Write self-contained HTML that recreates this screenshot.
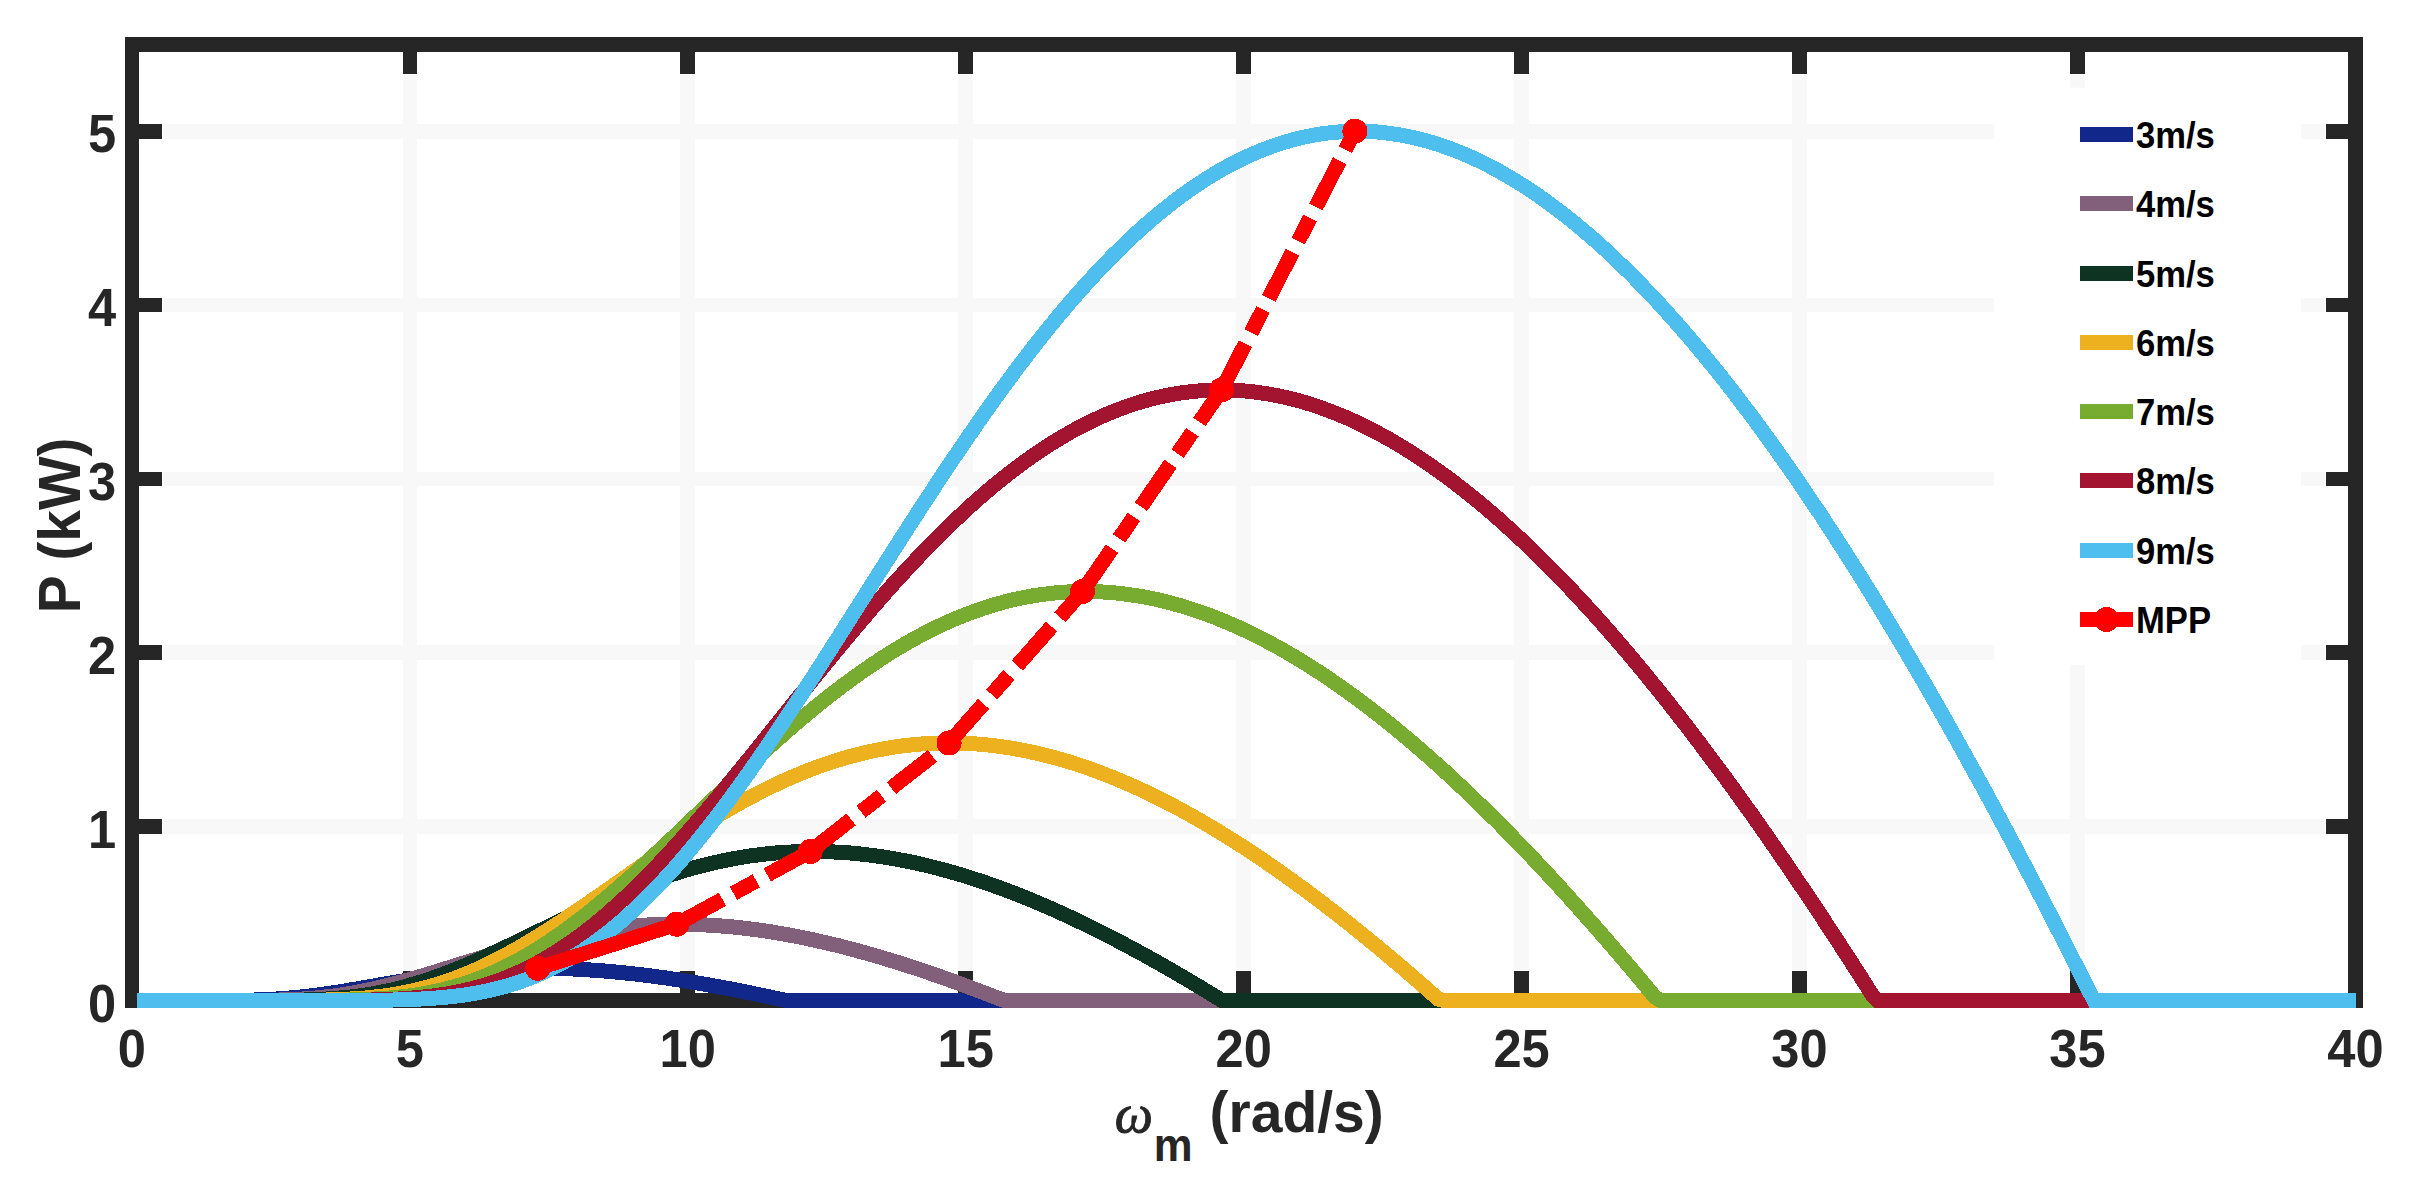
<!DOCTYPE html>
<html lang="en"><head><meta charset="utf-8"><title>P vs omega_m</title>
<style>html,body{margin:0;padding:0;background:#fff}body{width:2415px;height:1196px;overflow:hidden}svg{display:block}text{font-family:"Liberation Sans",Arial,Helvetica,sans-serif;font-weight:bold}</style>
</head><body>
<svg width="2415" height="1196" viewBox="0 0 2415 1196">
<rect width="2415" height="1196" fill="#ffffff"/>
<g fill="#f8f8f8">
<rect x="403.00" y="75.00" width="14.00" height="895.00"/>
<rect x="680.00" y="75.00" width="15.00" height="895.00"/>
<rect x="958.00" y="75.00" width="15.00" height="895.00"/>
<rect x="1236.00" y="75.00" width="15.00" height="895.00"/>
<rect x="1514.00" y="75.00" width="15.00" height="895.00"/>
<rect x="1792.00" y="75.00" width="15.00" height="895.00"/>
<rect x="2070.00" y="75.00" width="15.00" height="895.00"/>
<rect x="163.00" y="819.00" width="2162.00" height="15.00"/>
<rect x="163.00" y="645.00" width="2162.00" height="15.00"/>
<rect x="163.00" y="472.00" width="2162.00" height="14.00"/>
<rect x="163.00" y="298.00" width="2162.00" height="14.00"/>
<rect x="163.00" y="124.00" width="2162.00" height="15.00"/>
</g>
<g fill="#262626">
<rect x="125.00" y="37.00" width="2238.00" height="15.00"/>
<rect x="125.00" y="993.00" width="2238.00" height="15.00"/>
<rect x="125.00" y="37.00" width="14.00" height="971.00"/>
<rect x="2348.00" y="37.00" width="15.00" height="971.00"/>
<rect x="403.00" y="44.00" width="14.00" height="30.00"/>
<rect x="403.00" y="971.00" width="14.00" height="29.00"/>
<rect x="680.00" y="44.00" width="15.00" height="30.00"/>
<rect x="680.00" y="971.00" width="15.00" height="29.00"/>
<rect x="958.00" y="44.00" width="15.00" height="30.00"/>
<rect x="958.00" y="971.00" width="15.00" height="29.00"/>
<rect x="1236.00" y="44.00" width="15.00" height="30.00"/>
<rect x="1236.00" y="971.00" width="15.00" height="29.00"/>
<rect x="1514.00" y="44.00" width="15.00" height="30.00"/>
<rect x="1514.00" y="971.00" width="15.00" height="29.00"/>
<rect x="1792.00" y="44.00" width="15.00" height="30.00"/>
<rect x="1792.00" y="971.00" width="15.00" height="29.00"/>
<rect x="2070.00" y="44.00" width="15.00" height="30.00"/>
<rect x="2070.00" y="971.00" width="15.00" height="29.00"/>
<rect x="132.00" y="819.00" width="30.00" height="15.00"/>
<rect x="2326.00" y="819.00" width="30.00" height="15.00"/>
<rect x="132.00" y="645.00" width="30.00" height="15.00"/>
<rect x="2326.00" y="645.00" width="30.00" height="15.00"/>
<rect x="132.00" y="472.00" width="30.00" height="14.00"/>
<rect x="2326.00" y="472.00" width="30.00" height="14.00"/>
<rect x="132.00" y="298.00" width="30.00" height="14.00"/>
<rect x="2326.00" y="298.00" width="30.00" height="14.00"/>
<rect x="132.00" y="124.00" width="30.00" height="15.00"/>
<rect x="2326.00" y="124.00" width="30.00" height="15.00"/>
</g>
<g fill="none" stroke-width="15" stroke-linejoin="miter" stroke-linecap="butt" shape-rendering="crispEdges">
<polyline stroke="#12278a" points="136.9,1000.5 137.6,1000.5 143.1,1000.5 148.7,1000.5 154.2,1000.5 159.8,1000.5 165.4,1000.5 170.9,1000.5 176.5,1000.5 182.0,1000.5 187.6,1000.5 193.1,1000.5 198.7,1000.5 204.3,1000.5 209.8,1000.5 215.4,1000.5 220.9,1000.5 226.5,1000.5 232.1,1000.4 237.6,1000.4 243.2,1000.3 248.7,1000.2 254.3,1000.0 259.9,999.9 265.4,999.6 271.0,999.4 276.5,999.0 282.1,998.7 287.6,998.2 293.2,997.7 298.8,997.2 304.3,996.6 309.9,996.0 315.4,995.3 321.0,994.5 326.6,993.7 332.1,992.9 337.7,992.1 343.2,991.2 348.8,990.2 354.4,989.3 359.9,988.4 365.5,987.4 371.0,986.4 376.6,985.4 382.1,984.5 387.7,983.5 393.3,982.5 398.8,981.6 404.4,980.7 409.9,979.8 415.5,978.9 421.1,978.0 426.6,977.2 432.2,976.3 437.7,975.6 443.3,974.8 448.8,974.1 454.4,973.4 460.0,972.8 465.5,972.2 471.1,971.7 476.6,971.1 482.2,970.7 487.8,970.2 493.3,969.8 498.9,969.5 504.4,969.2 510.0,968.9 515.6,968.7 521.1,968.6 526.7,968.4 532.2,968.4 537.8,968.3 543.3,968.3 548.9,968.4 554.5,968.4 560.0,968.6 565.6,968.7 571.1,968.9 576.7,969.2 582.3,969.5 587.8,969.8 593.4,970.2 598.9,970.6 604.5,971.0 610.1,971.5 615.6,972.0 621.2,972.5 626.7,973.1 632.3,973.7 637.8,974.3 643.4,975.0 649.0,975.7 654.5,976.4 660.1,977.2 665.6,977.9 671.2,978.8 676.8,979.6 682.3,980.5 687.9,981.4 693.4,982.3 699.0,983.2 704.6,984.2 710.1,985.2 715.7,986.2 721.2,987.2 726.8,988.2 732.3,989.3 737.9,990.4 743.5,991.5 749.0,992.6 754.6,993.8 760.1,994.9 765.7,996.1 771.3,997.3 776.8,998.5 782.4,999.7 787.9,1000.5 793.5,1000.5 799.0,1000.5 804.6,1000.5 810.2,1000.5 815.7,1000.5 821.3,1000.5 826.8,1000.5 832.4,1000.5 838.0,1000.5 843.5,1000.5 849.1,1000.5 854.6,1000.5 860.2,1000.5 865.8,1000.5 871.3,1000.5 876.9,1000.5 882.4,1000.5 888.0,1000.5 893.5,1000.5 899.1,1000.5 904.7,1000.5 910.2,1000.5 915.8,1000.5 921.3,1000.5 926.9,1000.5 932.5,1000.5 938.0,1000.5 943.6,1000.5 949.1,1000.5 954.7,1000.5 960.3,1000.5 965.8,1000.5 971.4,1000.5 976.9,1000.5 982.5,1000.5 988.0,1000.5 993.6,1000.5 999.2,1000.5 1004.7,1000.5 1010.3,1000.5 1015.8,1000.5 1021.4,1000.5 1027.0,1000.5 1032.5,1000.5 1038.1,1000.5 1043.6,1000.5 1049.2,1000.5 1054.8,1000.5 1060.3,1000.5 1065.9,1000.5 1071.4,1000.5 1077.0,1000.5 1082.5,1000.5 1088.1,1000.5 1093.7,1000.5 1099.2,1000.5 1104.8,1000.5 1110.3,1000.5 1115.9,1000.5 1121.5,1000.5 1127.0,1000.5 1132.6,1000.5 1138.1,1000.5 1143.7,1000.5 1149.3,1000.5 1154.8,1000.5 1160.4,1000.5 1165.9,1000.5 1171.5,1000.5 1177.0,1000.5 1182.6,1000.5 1188.2,1000.5 1193.7,1000.5 1199.3,1000.5 1204.8,1000.5 1210.4,1000.5 1216.0,1000.5 1221.5,1000.5 1227.1,1000.5 1232.6,1000.5 1238.2,1000.5 1243.8,1000.5 1249.3,1000.5 1254.9,1000.5 1260.4,1000.5 1266.0,1000.5 1271.5,1000.5 1277.1,1000.5 1282.7,1000.5 1288.2,1000.5 1293.8,1000.5 1299.3,1000.5 1304.9,1000.5 1310.5,1000.5 1316.0,1000.5 1321.6,1000.5 1327.1,1000.5 1332.7,1000.5 1338.2,1000.5 1343.8,1000.5 1349.4,1000.5 1354.9,1000.5 1360.5,1000.5 1366.0,1000.5 1371.6,1000.5 1377.2,1000.5 1382.7,1000.5 1388.3,1000.5 1393.8,1000.5 1399.4,1000.5 1405.0,1000.5 1410.5,1000.5 1416.1,1000.5 1421.6,1000.5 1427.2,1000.5 1432.7,1000.5 1438.3,1000.5 1443.9,1000.5 1449.4,1000.5 1455.0,1000.5 1460.5,1000.5 1466.1,1000.5 1471.7,1000.5 1477.2,1000.5 1482.8,1000.5 1488.3,1000.5 1493.9,1000.5 1499.5,1000.5 1505.0,1000.5 1510.6,1000.5 1516.1,1000.5 1521.7,1000.5 1527.2,1000.5 1532.8,1000.5 1538.4,1000.5 1543.9,1000.5 1549.5,1000.5 1555.0,1000.5 1560.6,1000.5 1566.2,1000.5 1571.7,1000.5 1577.3,1000.5 1582.8,1000.5 1588.4,1000.5 1594.0,1000.5 1599.5,1000.5 1605.1,1000.5 1610.6,1000.5 1616.2,1000.5 1621.7,1000.5 1627.3,1000.5 1632.9,1000.5 1638.4,1000.5 1644.0,1000.5 1649.5,1000.5 1655.1,1000.5 1660.7,1000.5 1666.2,1000.5 1671.8,1000.5 1677.3,1000.5 1682.9,1000.5 1688.5,1000.5 1694.0,1000.5 1699.6,1000.5 1705.1,1000.5 1710.7,1000.5 1716.2,1000.5 1721.8,1000.5 1727.4,1000.5 1732.9,1000.5 1738.5,1000.5 1744.0,1000.5 1749.6,1000.5 1755.2,1000.5 1760.7,1000.5 1766.3,1000.5 1771.8,1000.5 1777.4,1000.5 1782.9,1000.5 1788.5,1000.5 1794.1,1000.5 1799.6,1000.5 1805.2,1000.5 1810.7,1000.5 1816.3,1000.5 1821.9,1000.5 1827.4,1000.5 1833.0,1000.5 1838.5,1000.5 1844.1,1000.5 1849.7,1000.5 1855.2,1000.5 1860.8,1000.5 1866.3,1000.5 1871.9,1000.5 1877.4,1000.5 1883.0,1000.5 1888.6,1000.5 1894.1,1000.5 1899.7,1000.5 1905.2,1000.5 1910.8,1000.5 1916.4,1000.5 1921.9,1000.5 1927.5,1000.5 1933.0,1000.5 1938.6,1000.5 1944.2,1000.5 1949.7,1000.5 1955.3,1000.5 1960.8,1000.5 1966.4,1000.5 1971.9,1000.5 1977.5,1000.5 1983.1,1000.5 1988.6,1000.5 1994.2,1000.5 1999.7,1000.5 2005.3,1000.5 2010.9,1000.5 2016.4,1000.5 2022.0,1000.5 2027.5,1000.5 2033.1,1000.5 2038.7,1000.5 2044.2,1000.5 2049.8,1000.5 2055.3,1000.5 2060.9,1000.5 2066.4,1000.5 2072.0,1000.5 2077.6,1000.5 2083.1,1000.5 2088.7,1000.5 2094.2,1000.5 2099.8,1000.5 2105.4,1000.5 2110.9,1000.5 2116.5,1000.5 2122.0,1000.5 2127.6,1000.5 2133.1,1000.5 2138.7,1000.5 2144.3,1000.5 2149.8,1000.5 2155.4,1000.5 2160.9,1000.5 2166.5,1000.5 2172.1,1000.5 2177.6,1000.5 2183.2,1000.5 2188.7,1000.5 2194.3,1000.5 2199.9,1000.5 2205.4,1000.5 2211.0,1000.5 2216.5,1000.5 2222.1,1000.5 2227.6,1000.5 2233.2,1000.5 2238.8,1000.5 2244.3,1000.5 2249.9,1000.5 2255.4,1000.5 2261.0,1000.5 2266.6,1000.5 2272.1,1000.5 2277.7,1000.5 2283.2,1000.5 2288.8,1000.5 2294.4,1000.5 2299.9,1000.5 2305.5,1000.5 2311.0,1000.5 2316.6,1000.5 2322.1,1000.5 2327.7,1000.5 2333.3,1000.5 2338.8,1000.5 2344.4,1000.5 2349.9,1000.5 2355.5,1000.5"/>
<polyline stroke="#82607b" points="136.9,1000.5 137.6,1000.5 143.1,1000.5 148.7,1000.5 154.2,1000.5 159.8,1000.5 165.4,1000.5 170.9,1000.5 176.5,1000.5 182.0,1000.5 187.6,1000.5 193.1,1000.5 198.7,1000.5 204.3,1000.5 209.8,1000.5 215.4,1000.5 220.9,1000.5 226.5,1000.5 232.1,1000.5 237.6,1000.5 243.2,1000.5 248.7,1000.5 254.3,1000.4 259.9,1000.4 265.4,1000.3 271.0,1000.2 276.5,1000.1 282.1,999.9 287.6,999.7 293.2,999.5 298.8,999.2 304.3,998.9 309.9,998.5 315.4,998.0 321.0,997.4 326.6,996.8 332.1,996.2 337.7,995.4 343.2,994.6 348.8,993.7 354.4,992.7 359.9,991.6 365.5,990.5 371.0,989.3 376.6,988.1 382.1,986.8 387.7,985.4 393.3,984.0 398.8,982.5 404.4,981.0 409.9,979.4 415.5,977.8 421.1,976.2 426.6,974.5 432.2,972.9 437.7,971.2 443.3,969.4 448.8,967.7 454.4,966.0 460.0,964.2 465.5,962.5 471.1,960.8 476.6,959.1 482.2,957.4 487.8,955.7 493.3,954.0 498.9,952.4 504.4,950.8 510.0,949.2 515.6,947.7 521.1,946.2 526.7,944.7 532.2,943.2 537.8,941.9 543.3,940.5 548.9,939.2 554.5,938.0 560.0,936.7 565.6,935.6 571.1,934.5 576.7,933.4 582.3,932.4 587.8,931.5 593.4,930.6 598.9,929.8 604.5,929.0 610.1,928.3 615.6,927.6 621.2,927.0 626.7,926.5 632.3,926.0 637.8,925.6 643.4,925.2 649.0,924.9 654.5,924.6 660.1,924.4 665.6,924.3 671.2,924.2 676.8,924.2 682.3,924.2 687.9,924.3 693.4,924.4 699.0,924.6 704.6,924.9 710.1,925.2 715.7,925.6 721.2,926.0 726.8,926.4 732.3,926.9 737.9,927.5 743.5,928.1 749.0,928.8 754.6,929.5 760.1,930.3 765.7,931.1 771.3,931.9 776.8,932.9 782.4,933.8 787.9,934.8 793.5,935.8 799.0,936.9 804.6,938.0 810.2,939.2 815.7,940.4 821.3,941.7 826.8,942.9 832.4,944.3 838.0,945.6 843.5,947.0 849.1,948.5 854.6,949.9 860.2,951.5 865.8,953.0 871.3,954.6 876.9,956.2 882.4,957.8 888.0,959.5 893.5,961.2 899.1,962.9 904.7,964.7 910.2,966.5 915.8,968.3 921.3,970.2 926.9,972.0 932.5,974.0 938.0,975.9 943.6,977.8 949.1,979.8 954.7,981.8 960.3,983.8 965.8,985.9 971.4,988.0 976.9,990.1 982.5,992.2 988.0,994.3 993.6,996.5 999.2,998.6 1004.7,1000.5 1010.3,1000.5 1015.8,1000.5 1021.4,1000.5 1027.0,1000.5 1032.5,1000.5 1038.1,1000.5 1043.6,1000.5 1049.2,1000.5 1054.8,1000.5 1060.3,1000.5 1065.9,1000.5 1071.4,1000.5 1077.0,1000.5 1082.5,1000.5 1088.1,1000.5 1093.7,1000.5 1099.2,1000.5 1104.8,1000.5 1110.3,1000.5 1115.9,1000.5 1121.5,1000.5 1127.0,1000.5 1132.6,1000.5 1138.1,1000.5 1143.7,1000.5 1149.3,1000.5 1154.8,1000.5 1160.4,1000.5 1165.9,1000.5 1171.5,1000.5 1177.0,1000.5 1182.6,1000.5 1188.2,1000.5 1193.7,1000.5 1199.3,1000.5 1204.8,1000.5 1210.4,1000.5 1216.0,1000.5 1221.5,1000.5 1227.1,1000.5 1232.6,1000.5 1238.2,1000.5 1243.8,1000.5 1249.3,1000.5 1254.9,1000.5 1260.4,1000.5 1266.0,1000.5 1271.5,1000.5 1277.1,1000.5 1282.7,1000.5 1288.2,1000.5 1293.8,1000.5 1299.3,1000.5 1304.9,1000.5 1310.5,1000.5 1316.0,1000.5 1321.6,1000.5 1327.1,1000.5 1332.7,1000.5 1338.2,1000.5 1343.8,1000.5 1349.4,1000.5 1354.9,1000.5 1360.5,1000.5 1366.0,1000.5 1371.6,1000.5 1377.2,1000.5 1382.7,1000.5 1388.3,1000.5 1393.8,1000.5 1399.4,1000.5 1405.0,1000.5 1410.5,1000.5 1416.1,1000.5 1421.6,1000.5 1427.2,1000.5 1432.7,1000.5 1438.3,1000.5 1443.9,1000.5 1449.4,1000.5 1455.0,1000.5 1460.5,1000.5 1466.1,1000.5 1471.7,1000.5 1477.2,1000.5 1482.8,1000.5 1488.3,1000.5 1493.9,1000.5 1499.5,1000.5 1505.0,1000.5 1510.6,1000.5 1516.1,1000.5 1521.7,1000.5 1527.2,1000.5 1532.8,1000.5 1538.4,1000.5 1543.9,1000.5 1549.5,1000.5 1555.0,1000.5 1560.6,1000.5 1566.2,1000.5 1571.7,1000.5 1577.3,1000.5 1582.8,1000.5 1588.4,1000.5 1594.0,1000.5 1599.5,1000.5 1605.1,1000.5 1610.6,1000.5 1616.2,1000.5 1621.7,1000.5 1627.3,1000.5 1632.9,1000.5 1638.4,1000.5 1644.0,1000.5 1649.5,1000.5 1655.1,1000.5 1660.7,1000.5 1666.2,1000.5 1671.8,1000.5 1677.3,1000.5 1682.9,1000.5 1688.5,1000.5 1694.0,1000.5 1699.6,1000.5 1705.1,1000.5 1710.7,1000.5 1716.2,1000.5 1721.8,1000.5 1727.4,1000.5 1732.9,1000.5 1738.5,1000.5 1744.0,1000.5 1749.6,1000.5 1755.2,1000.5 1760.7,1000.5 1766.3,1000.5 1771.8,1000.5 1777.4,1000.5 1782.9,1000.5 1788.5,1000.5 1794.1,1000.5 1799.6,1000.5 1805.2,1000.5 1810.7,1000.5 1816.3,1000.5 1821.9,1000.5 1827.4,1000.5 1833.0,1000.5 1838.5,1000.5 1844.1,1000.5 1849.7,1000.5 1855.2,1000.5 1860.8,1000.5 1866.3,1000.5 1871.9,1000.5 1877.4,1000.5 1883.0,1000.5 1888.6,1000.5 1894.1,1000.5 1899.7,1000.5 1905.2,1000.5 1910.8,1000.5 1916.4,1000.5 1921.9,1000.5 1927.5,1000.5 1933.0,1000.5 1938.6,1000.5 1944.2,1000.5 1949.7,1000.5 1955.3,1000.5 1960.8,1000.5 1966.4,1000.5 1971.9,1000.5 1977.5,1000.5 1983.1,1000.5 1988.6,1000.5 1994.2,1000.5 1999.7,1000.5 2005.3,1000.5 2010.9,1000.5 2016.4,1000.5 2022.0,1000.5 2027.5,1000.5 2033.1,1000.5 2038.7,1000.5 2044.2,1000.5 2049.8,1000.5 2055.3,1000.5 2060.9,1000.5 2066.4,1000.5 2072.0,1000.5 2077.6,1000.5 2083.1,1000.5 2088.7,1000.5 2094.2,1000.5 2099.8,1000.5 2105.4,1000.5 2110.9,1000.5 2116.5,1000.5 2122.0,1000.5 2127.6,1000.5 2133.1,1000.5 2138.7,1000.5 2144.3,1000.5 2149.8,1000.5 2155.4,1000.5 2160.9,1000.5 2166.5,1000.5 2172.1,1000.5 2177.6,1000.5 2183.2,1000.5 2188.7,1000.5 2194.3,1000.5 2199.9,1000.5 2205.4,1000.5 2211.0,1000.5 2216.5,1000.5 2222.1,1000.5 2227.6,1000.5 2233.2,1000.5 2238.8,1000.5 2244.3,1000.5 2249.9,1000.5 2255.4,1000.5 2261.0,1000.5 2266.6,1000.5 2272.1,1000.5 2277.7,1000.5 2283.2,1000.5 2288.8,1000.5 2294.4,1000.5 2299.9,1000.5 2305.5,1000.5 2311.0,1000.5 2316.6,1000.5 2322.1,1000.5 2327.7,1000.5 2333.3,1000.5 2338.8,1000.5 2344.4,1000.5 2349.9,1000.5 2355.5,1000.5"/>
<polyline stroke="#0f3322" points="136.9,1000.5 137.6,1000.5 143.1,1000.5 148.7,1000.5 154.2,1000.5 159.8,1000.5 165.4,1000.5 170.9,1000.5 176.5,1000.5 182.0,1000.5 187.6,1000.5 193.1,1000.5 198.7,1000.5 204.3,1000.5 209.8,1000.5 215.4,1000.5 220.9,1000.5 226.5,1000.5 232.1,1000.5 237.6,1000.5 243.2,1000.5 248.7,1000.5 254.3,1000.5 259.9,1000.5 265.4,1000.5 271.0,1000.4 276.5,1000.4 282.1,1000.4 287.6,1000.3 293.2,1000.2 298.8,1000.1 304.3,1000.0 309.9,999.8 315.4,999.6 321.0,999.3 326.6,999.0 332.1,998.7 337.7,998.2 343.2,997.7 348.8,997.2 354.4,996.5 359.9,995.8 365.5,995.0 371.0,994.1 376.6,993.1 382.1,992.0 387.7,990.8 393.3,989.6 398.8,988.2 404.4,986.8 409.9,985.2 415.5,983.6 421.1,981.9 426.6,980.1 432.2,978.2 437.7,976.3 443.3,974.2 448.8,972.1 454.4,969.9 460.0,967.7 465.5,965.4 471.1,963.0 476.6,960.6 482.2,958.1 487.8,955.6 493.3,953.0 498.9,950.4 504.4,947.8 510.0,945.2 515.6,942.5 521.1,939.8 526.7,937.1 532.2,934.4 537.8,931.7 543.3,929.0 548.9,926.3 554.5,923.6 560.0,920.9 565.6,918.3 571.1,915.6 576.7,913.0 582.3,910.4 587.8,907.8 593.4,905.3 598.9,902.8 604.5,900.3 610.1,897.9 615.6,895.5 621.2,893.2 626.7,890.9 632.3,888.7 637.8,886.5 643.4,884.4 649.0,882.3 654.5,880.3 660.1,878.3 665.6,876.4 671.2,874.6 676.8,872.9 682.3,871.2 687.9,869.5 693.4,868.0 699.0,866.5 704.6,865.0 710.1,863.7 715.7,862.4 721.2,861.2 726.8,860.0 732.3,858.9 737.9,857.9 743.5,857.0 749.0,856.1 754.6,855.4 760.1,854.6 765.7,854.0 771.3,853.4 776.8,852.9 782.4,852.5 787.9,852.2 793.5,851.9 799.0,851.7 804.6,851.5 810.2,851.5 815.7,851.5 821.3,851.5 826.8,851.7 832.4,851.9 838.0,852.2 843.5,852.5 849.1,852.9 854.6,853.4 860.2,854.0 865.8,854.6 871.3,855.3 876.9,856.0 882.4,856.8 888.0,857.7 893.5,858.7 899.1,859.7 904.7,860.7 910.2,861.9 915.8,863.0 921.3,864.3 926.9,865.6 932.5,867.0 938.0,868.4 943.6,869.9 949.1,871.4 954.7,873.0 960.3,874.6 965.8,876.3 971.4,878.1 976.9,879.9 982.5,881.7 988.0,883.6 993.6,885.6 999.2,887.6 1004.7,889.6 1010.3,891.7 1015.8,893.9 1021.4,896.1 1027.0,898.3 1032.5,900.6 1038.1,902.9 1043.6,905.3 1049.2,907.7 1054.8,910.2 1060.3,912.7 1065.9,915.2 1071.4,917.8 1077.0,920.4 1082.5,923.1 1088.1,925.8 1093.7,928.5 1099.2,931.3 1104.8,934.1 1110.3,936.9 1115.9,939.8 1121.5,942.7 1127.0,945.7 1132.6,948.7 1138.1,951.7 1143.7,954.7 1149.3,957.8 1154.8,960.9 1160.4,964.0 1165.9,967.2 1171.5,970.4 1177.0,973.6 1182.6,976.8 1188.2,980.1 1193.7,983.4 1199.3,986.7 1204.8,990.1 1210.4,993.5 1216.0,996.9 1221.5,1000.3 1227.1,1000.5 1232.6,1000.5 1238.2,1000.5 1243.8,1000.5 1249.3,1000.5 1254.9,1000.5 1260.4,1000.5 1266.0,1000.5 1271.5,1000.5 1277.1,1000.5 1282.7,1000.5 1288.2,1000.5 1293.8,1000.5 1299.3,1000.5 1304.9,1000.5 1310.5,1000.5 1316.0,1000.5 1321.6,1000.5 1327.1,1000.5 1332.7,1000.5 1338.2,1000.5 1343.8,1000.5 1349.4,1000.5 1354.9,1000.5 1360.5,1000.5 1366.0,1000.5 1371.6,1000.5 1377.2,1000.5 1382.7,1000.5 1388.3,1000.5 1393.8,1000.5 1399.4,1000.5 1405.0,1000.5 1410.5,1000.5 1416.1,1000.5 1421.6,1000.5 1427.2,1000.5 1432.7,1000.5 1438.3,1000.5 1443.9,1000.5 1449.4,1000.5 1455.0,1000.5 1460.5,1000.5 1466.1,1000.5 1471.7,1000.5 1477.2,1000.5 1482.8,1000.5 1488.3,1000.5 1493.9,1000.5 1499.5,1000.5 1505.0,1000.5 1510.6,1000.5 1516.1,1000.5 1521.7,1000.5 1527.2,1000.5 1532.8,1000.5 1538.4,1000.5 1543.9,1000.5 1549.5,1000.5 1555.0,1000.5 1560.6,1000.5 1566.2,1000.5 1571.7,1000.5 1577.3,1000.5 1582.8,1000.5 1588.4,1000.5 1594.0,1000.5 1599.5,1000.5 1605.1,1000.5 1610.6,1000.5 1616.2,1000.5 1621.7,1000.5 1627.3,1000.5 1632.9,1000.5 1638.4,1000.5 1644.0,1000.5 1649.5,1000.5 1655.1,1000.5 1660.7,1000.5 1666.2,1000.5 1671.8,1000.5 1677.3,1000.5 1682.9,1000.5 1688.5,1000.5 1694.0,1000.5 1699.6,1000.5 1705.1,1000.5 1710.7,1000.5 1716.2,1000.5 1721.8,1000.5 1727.4,1000.5 1732.9,1000.5 1738.5,1000.5 1744.0,1000.5 1749.6,1000.5 1755.2,1000.5 1760.7,1000.5 1766.3,1000.5 1771.8,1000.5 1777.4,1000.5 1782.9,1000.5 1788.5,1000.5 1794.1,1000.5 1799.6,1000.5 1805.2,1000.5 1810.7,1000.5 1816.3,1000.5 1821.9,1000.5 1827.4,1000.5 1833.0,1000.5 1838.5,1000.5 1844.1,1000.5 1849.7,1000.5 1855.2,1000.5 1860.8,1000.5 1866.3,1000.5 1871.9,1000.5 1877.4,1000.5 1883.0,1000.5 1888.6,1000.5 1894.1,1000.5 1899.7,1000.5 1905.2,1000.5 1910.8,1000.5 1916.4,1000.5 1921.9,1000.5 1927.5,1000.5 1933.0,1000.5 1938.6,1000.5 1944.2,1000.5 1949.7,1000.5 1955.3,1000.5 1960.8,1000.5 1966.4,1000.5 1971.9,1000.5 1977.5,1000.5 1983.1,1000.5 1988.6,1000.5 1994.2,1000.5 1999.7,1000.5 2005.3,1000.5 2010.9,1000.5 2016.4,1000.5 2022.0,1000.5 2027.5,1000.5 2033.1,1000.5 2038.7,1000.5 2044.2,1000.5 2049.8,1000.5 2055.3,1000.5 2060.9,1000.5 2066.4,1000.5 2072.0,1000.5 2077.6,1000.5 2083.1,1000.5 2088.7,1000.5 2094.2,1000.5 2099.8,1000.5 2105.4,1000.5 2110.9,1000.5 2116.5,1000.5 2122.0,1000.5 2127.6,1000.5 2133.1,1000.5 2138.7,1000.5 2144.3,1000.5 2149.8,1000.5 2155.4,1000.5 2160.9,1000.5 2166.5,1000.5 2172.1,1000.5 2177.6,1000.5 2183.2,1000.5 2188.7,1000.5 2194.3,1000.5 2199.9,1000.5 2205.4,1000.5 2211.0,1000.5 2216.5,1000.5 2222.1,1000.5 2227.6,1000.5 2233.2,1000.5 2238.8,1000.5 2244.3,1000.5 2249.9,1000.5 2255.4,1000.5 2261.0,1000.5 2266.6,1000.5 2272.1,1000.5 2277.7,1000.5 2283.2,1000.5 2288.8,1000.5 2294.4,1000.5 2299.9,1000.5 2305.5,1000.5 2311.0,1000.5 2316.6,1000.5 2322.1,1000.5 2327.7,1000.5 2333.3,1000.5 2338.8,1000.5 2344.4,1000.5 2349.9,1000.5 2355.5,1000.5"/>
<polyline stroke="#edb120" points="136.9,1000.5 137.6,1000.5 143.1,1000.5 148.7,1000.5 154.2,1000.5 159.8,1000.5 165.4,1000.5 170.9,1000.5 176.5,1000.5 182.0,1000.5 187.6,1000.5 193.1,1000.5 198.7,1000.5 204.3,1000.5 209.8,1000.5 215.4,1000.5 220.9,1000.5 226.5,1000.5 232.1,1000.5 237.6,1000.5 243.2,1000.5 248.7,1000.5 254.3,1000.5 259.9,1000.5 265.4,1000.5 271.0,1000.5 276.5,1000.5 282.1,1000.5 287.6,1000.5 293.2,1000.4 298.8,1000.4 304.3,1000.4 309.9,1000.3 315.4,1000.2 321.0,1000.1 326.6,1000.0 332.1,999.9 337.7,999.7 343.2,999.4 348.8,999.1 354.4,998.8 359.9,998.4 365.5,998.0 371.0,997.4 376.6,996.8 382.1,996.2 387.7,995.4 393.3,994.5 398.8,993.6 404.4,992.6 409.9,991.4 415.5,990.2 421.1,988.8 426.6,987.4 432.2,985.8 437.7,984.1 443.3,982.4 448.8,980.5 454.4,978.5 460.0,976.4 465.5,974.1 471.1,971.8 476.6,969.4 482.2,966.8 487.8,964.2 493.3,961.4 498.9,958.6 504.4,955.7 510.0,952.7 515.6,949.6 521.1,946.4 526.7,943.1 532.2,939.8 537.8,936.4 543.3,932.9 548.9,929.4 554.5,925.8 560.0,922.2 565.6,918.5 571.1,914.7 576.7,911.0 582.3,907.2 587.8,903.4 593.4,899.5 598.9,895.7 604.5,891.8 610.1,887.9 615.6,884.0 621.2,880.1 626.7,876.2 632.3,872.3 637.8,868.4 643.4,864.5 649.0,860.7 654.5,856.9 660.1,853.1 665.6,849.3 671.2,845.5 676.8,841.8 682.3,838.1 687.9,834.5 693.4,830.9 699.0,827.4 704.6,823.9 710.1,820.5 715.7,817.1 721.2,813.7 726.8,810.5 732.3,807.3 737.9,804.1 743.5,801.0 749.0,798.0 754.6,795.1 760.1,792.2 765.7,789.4 771.3,786.7 776.8,784.0 782.4,781.4 787.9,778.9 793.5,776.5 799.0,774.2 804.6,771.9 810.2,769.7 815.7,767.6 821.3,765.6 826.8,763.7 832.4,761.8 838.0,760.1 843.5,758.4 849.1,756.8 854.6,755.3 860.2,753.9 865.8,752.5 871.3,751.3 876.9,750.1 882.4,749.1 888.0,748.1 893.5,747.2 899.1,746.4 904.7,745.6 910.2,745.0 915.8,744.4 921.3,744.0 926.9,743.6 932.5,743.3 938.0,743.1 943.6,743.0 949.1,742.9 954.7,743.0 960.3,743.1 965.8,743.3 971.4,743.6 976.9,744.0 982.5,744.5 988.0,745.0 993.6,745.6 999.2,746.4 1004.7,747.1 1010.3,748.0 1015.8,749.0 1021.4,750.0 1027.0,751.1 1032.5,752.3 1038.1,753.5 1043.6,754.8 1049.2,756.3 1054.8,757.7 1060.3,759.3 1065.9,760.9 1071.4,762.6 1077.0,764.4 1082.5,766.2 1088.1,768.1 1093.7,770.1 1099.2,772.2 1104.8,774.3 1110.3,776.5 1115.9,778.7 1121.5,781.1 1127.0,783.5 1132.6,785.9 1138.1,788.4 1143.7,791.0 1149.3,793.6 1154.8,796.3 1160.4,799.1 1165.9,801.9 1171.5,804.8 1177.0,807.7 1182.6,810.7 1188.2,813.8 1193.7,816.9 1199.3,820.1 1204.8,823.3 1210.4,826.6 1216.0,829.9 1221.5,833.3 1227.1,836.7 1232.6,840.2 1238.2,843.7 1243.8,847.3 1249.3,850.9 1254.9,854.6 1260.4,858.4 1266.0,862.1 1271.5,866.0 1277.1,869.8 1282.7,873.7 1288.2,877.7 1293.8,881.7 1299.3,885.8 1304.9,889.8 1310.5,894.0 1316.0,898.1 1321.6,902.4 1327.1,906.6 1332.7,910.9 1338.2,915.2 1343.8,919.6 1349.4,924.0 1354.9,928.5 1360.5,932.9 1366.0,937.4 1371.6,942.0 1377.2,946.6 1382.7,951.2 1388.3,955.9 1393.8,960.5 1399.4,965.3 1405.0,970.0 1410.5,974.8 1416.1,979.6 1421.6,984.4 1427.2,989.3 1432.7,994.2 1438.3,999.1 1443.9,1000.5 1449.4,1000.5 1455.0,1000.5 1460.5,1000.5 1466.1,1000.5 1471.7,1000.5 1477.2,1000.5 1482.8,1000.5 1488.3,1000.5 1493.9,1000.5 1499.5,1000.5 1505.0,1000.5 1510.6,1000.5 1516.1,1000.5 1521.7,1000.5 1527.2,1000.5 1532.8,1000.5 1538.4,1000.5 1543.9,1000.5 1549.5,1000.5 1555.0,1000.5 1560.6,1000.5 1566.2,1000.5 1571.7,1000.5 1577.3,1000.5 1582.8,1000.5 1588.4,1000.5 1594.0,1000.5 1599.5,1000.5 1605.1,1000.5 1610.6,1000.5 1616.2,1000.5 1621.7,1000.5 1627.3,1000.5 1632.9,1000.5 1638.4,1000.5 1644.0,1000.5 1649.5,1000.5 1655.1,1000.5 1660.7,1000.5 1666.2,1000.5 1671.8,1000.5 1677.3,1000.5 1682.9,1000.5 1688.5,1000.5 1694.0,1000.5 1699.6,1000.5 1705.1,1000.5 1710.7,1000.5 1716.2,1000.5 1721.8,1000.5 1727.4,1000.5 1732.9,1000.5 1738.5,1000.5 1744.0,1000.5 1749.6,1000.5 1755.2,1000.5 1760.7,1000.5 1766.3,1000.5 1771.8,1000.5 1777.4,1000.5 1782.9,1000.5 1788.5,1000.5 1794.1,1000.5 1799.6,1000.5 1805.2,1000.5 1810.7,1000.5 1816.3,1000.5 1821.9,1000.5 1827.4,1000.5 1833.0,1000.5 1838.5,1000.5 1844.1,1000.5 1849.7,1000.5 1855.2,1000.5 1860.8,1000.5 1866.3,1000.5 1871.9,1000.5 1877.4,1000.5 1883.0,1000.5 1888.6,1000.5 1894.1,1000.5 1899.7,1000.5 1905.2,1000.5 1910.8,1000.5 1916.4,1000.5 1921.9,1000.5 1927.5,1000.5 1933.0,1000.5 1938.6,1000.5 1944.2,1000.5 1949.7,1000.5 1955.3,1000.5 1960.8,1000.5 1966.4,1000.5 1971.9,1000.5 1977.5,1000.5 1983.1,1000.5 1988.6,1000.5 1994.2,1000.5 1999.7,1000.5 2005.3,1000.5 2010.9,1000.5 2016.4,1000.5 2022.0,1000.5 2027.5,1000.5 2033.1,1000.5 2038.7,1000.5 2044.2,1000.5 2049.8,1000.5 2055.3,1000.5 2060.9,1000.5 2066.4,1000.5 2072.0,1000.5 2077.6,1000.5 2083.1,1000.5 2088.7,1000.5 2094.2,1000.5 2099.8,1000.5 2105.4,1000.5 2110.9,1000.5 2116.5,1000.5 2122.0,1000.5 2127.6,1000.5 2133.1,1000.5 2138.7,1000.5 2144.3,1000.5 2149.8,1000.5 2155.4,1000.5 2160.9,1000.5 2166.5,1000.5 2172.1,1000.5 2177.6,1000.5 2183.2,1000.5 2188.7,1000.5 2194.3,1000.5 2199.9,1000.5 2205.4,1000.5 2211.0,1000.5 2216.5,1000.5 2222.1,1000.5 2227.6,1000.5 2233.2,1000.5 2238.8,1000.5 2244.3,1000.5 2249.9,1000.5 2255.4,1000.5 2261.0,1000.5 2266.6,1000.5 2272.1,1000.5 2277.7,1000.5 2283.2,1000.5 2288.8,1000.5 2294.4,1000.5 2299.9,1000.5 2305.5,1000.5 2311.0,1000.5 2316.6,1000.5 2322.1,1000.5 2327.7,1000.5 2333.3,1000.5 2338.8,1000.5 2344.4,1000.5 2349.9,1000.5 2355.5,1000.5"/>
<polyline stroke="#77ac30" points="136.9,1000.5 137.6,1000.5 143.1,1000.5 148.7,1000.5 154.2,1000.5 159.8,1000.5 165.4,1000.5 170.9,1000.5 176.5,1000.5 182.0,1000.5 187.6,1000.5 193.1,1000.5 198.7,1000.5 204.3,1000.5 209.8,1000.5 215.4,1000.5 220.9,1000.5 226.5,1000.5 232.1,1000.5 237.6,1000.5 243.2,1000.5 248.7,1000.5 254.3,1000.5 259.9,1000.5 265.4,1000.5 271.0,1000.5 276.5,1000.5 282.1,1000.5 287.6,1000.5 293.2,1000.5 298.8,1000.5 304.3,1000.5 309.9,1000.5 315.4,1000.4 321.0,1000.4 326.6,1000.4 332.1,1000.3 337.7,1000.2 343.2,1000.1 348.8,1000.0 354.4,999.9 359.9,999.7 365.5,999.5 371.0,999.2 376.6,998.9 382.1,998.6 387.7,998.1 393.3,997.7 398.8,997.1 404.4,996.5 409.9,995.8 415.5,995.0 421.1,994.1 426.6,993.1 432.2,992.0 437.7,990.8 443.3,989.6 448.8,988.1 454.4,986.6 460.0,985.0 465.5,983.2 471.1,981.3 476.6,979.3 482.2,977.2 487.8,974.9 493.3,972.5 498.9,970.0 504.4,967.4 510.0,964.6 515.6,961.7 521.1,958.6 526.7,955.5 532.2,952.2 537.8,948.8 543.3,945.2 548.9,941.6 554.5,937.8 560.0,934.0 565.6,930.0 571.1,925.9 576.7,921.7 582.3,917.5 587.8,913.1 593.4,908.6 598.9,904.1 604.5,899.4 610.1,894.7 615.6,890.0 621.2,885.1 626.7,880.2 632.3,875.3 637.8,870.2 643.4,865.2 649.0,860.1 654.5,854.9 660.1,849.7 665.6,844.5 671.2,839.3 676.8,834.0 682.3,828.7 687.9,823.4 693.4,818.1 699.0,812.8 704.6,807.5 710.1,802.2 715.7,796.9 721.2,791.6 726.8,786.4 732.3,781.1 737.9,775.9 743.5,770.7 749.0,765.5 754.6,760.4 760.1,755.3 765.7,750.2 771.3,745.2 776.8,740.2 782.4,735.3 787.9,730.4 793.5,725.6 799.0,720.8 804.6,716.1 810.2,711.5 815.7,706.9 821.3,702.4 826.8,698.0 832.4,693.6 838.0,689.4 843.5,685.1 849.1,681.0 854.6,677.0 860.2,673.0 865.8,669.1 871.3,665.3 876.9,661.6 882.4,657.9 888.0,654.4 893.5,650.9 899.1,647.6 904.7,644.3 910.2,641.1 915.8,638.0 921.3,635.0 926.9,632.1 932.5,629.3 938.0,626.6 943.6,624.0 949.1,621.5 954.7,619.1 960.3,616.8 965.8,614.6 971.4,612.5 976.9,610.5 982.5,608.6 988.0,606.8 993.6,605.0 999.2,603.4 1004.7,601.9 1010.3,600.5 1015.8,599.2 1021.4,598.0 1027.0,596.9 1032.5,595.9 1038.1,595.0 1043.6,594.3 1049.2,593.6 1054.8,593.0 1060.3,592.5 1065.9,592.1 1071.4,591.8 1077.0,591.6 1082.5,591.5 1088.1,591.5 1093.7,591.6 1099.2,591.8 1104.8,592.1 1110.3,592.5 1115.9,593.0 1121.5,593.6 1127.0,594.3 1132.6,595.1 1138.1,596.0 1143.7,596.9 1149.3,598.0 1154.8,599.1 1160.4,600.4 1165.9,601.7 1171.5,603.2 1177.0,604.7 1182.6,606.3 1188.2,608.0 1193.7,609.8 1199.3,611.7 1204.8,613.6 1210.4,615.7 1216.0,617.8 1221.5,620.1 1227.1,622.4 1232.6,624.8 1238.2,627.2 1243.8,629.8 1249.3,632.4 1254.9,635.1 1260.4,637.9 1266.0,640.8 1271.5,643.8 1277.1,646.8 1282.7,649.9 1288.2,653.1 1293.8,656.4 1299.3,659.7 1304.9,663.1 1310.5,666.6 1316.0,670.2 1321.6,673.8 1327.1,677.5 1332.7,681.3 1338.2,685.2 1343.8,689.1 1349.4,693.1 1354.9,697.1 1360.5,701.2 1366.0,705.4 1371.6,709.7 1377.2,714.0 1382.7,718.4 1388.3,722.8 1393.8,727.3 1399.4,731.9 1405.0,736.5 1410.5,741.2 1416.1,745.9 1421.6,750.7 1427.2,755.6 1432.7,760.5 1438.3,765.5 1443.9,770.5 1449.4,775.6 1455.0,780.8 1460.5,786.0 1466.1,791.2 1471.7,796.5 1477.2,801.9 1482.8,807.3 1488.3,812.8 1493.9,818.3 1499.5,823.8 1505.0,829.5 1510.6,835.1 1516.1,840.8 1521.7,846.6 1527.2,852.4 1532.8,858.2 1538.4,864.1 1543.9,870.1 1549.5,876.0 1555.0,882.1 1560.6,888.1 1566.2,894.2 1571.7,900.4 1577.3,906.6 1582.8,912.8 1588.4,919.1 1594.0,925.4 1599.5,931.7 1605.1,938.1 1610.6,944.5 1616.2,951.0 1621.7,957.5 1627.3,964.0 1632.9,970.6 1638.4,977.2 1644.0,983.8 1649.5,990.5 1655.1,997.2 1660.7,1000.5 1666.2,1000.5 1671.8,1000.5 1677.3,1000.5 1682.9,1000.5 1688.5,1000.5 1694.0,1000.5 1699.6,1000.5 1705.1,1000.5 1710.7,1000.5 1716.2,1000.5 1721.8,1000.5 1727.4,1000.5 1732.9,1000.5 1738.5,1000.5 1744.0,1000.5 1749.6,1000.5 1755.2,1000.5 1760.7,1000.5 1766.3,1000.5 1771.8,1000.5 1777.4,1000.5 1782.9,1000.5 1788.5,1000.5 1794.1,1000.5 1799.6,1000.5 1805.2,1000.5 1810.7,1000.5 1816.3,1000.5 1821.9,1000.5 1827.4,1000.5 1833.0,1000.5 1838.5,1000.5 1844.1,1000.5 1849.7,1000.5 1855.2,1000.5 1860.8,1000.5 1866.3,1000.5 1871.9,1000.5 1877.4,1000.5 1883.0,1000.5 1888.6,1000.5 1894.1,1000.5 1899.7,1000.5 1905.2,1000.5 1910.8,1000.5 1916.4,1000.5 1921.9,1000.5 1927.5,1000.5 1933.0,1000.5 1938.6,1000.5 1944.2,1000.5 1949.7,1000.5 1955.3,1000.5 1960.8,1000.5 1966.4,1000.5 1971.9,1000.5 1977.5,1000.5 1983.1,1000.5 1988.6,1000.5 1994.2,1000.5 1999.7,1000.5 2005.3,1000.5 2010.9,1000.5 2016.4,1000.5 2022.0,1000.5 2027.5,1000.5 2033.1,1000.5 2038.7,1000.5 2044.2,1000.5 2049.8,1000.5 2055.3,1000.5 2060.9,1000.5 2066.4,1000.5 2072.0,1000.5 2077.6,1000.5 2083.1,1000.5 2088.7,1000.5 2094.2,1000.5 2099.8,1000.5 2105.4,1000.5 2110.9,1000.5 2116.5,1000.5 2122.0,1000.5 2127.6,1000.5 2133.1,1000.5 2138.7,1000.5 2144.3,1000.5 2149.8,1000.5 2155.4,1000.5 2160.9,1000.5 2166.5,1000.5 2172.1,1000.5 2177.6,1000.5 2183.2,1000.5 2188.7,1000.5 2194.3,1000.5 2199.9,1000.5 2205.4,1000.5 2211.0,1000.5 2216.5,1000.5 2222.1,1000.5 2227.6,1000.5 2233.2,1000.5 2238.8,1000.5 2244.3,1000.5 2249.9,1000.5 2255.4,1000.5 2261.0,1000.5 2266.6,1000.5 2272.1,1000.5 2277.7,1000.5 2283.2,1000.5 2288.8,1000.5 2294.4,1000.5 2299.9,1000.5 2305.5,1000.5 2311.0,1000.5 2316.6,1000.5 2322.1,1000.5 2327.7,1000.5 2333.3,1000.5 2338.8,1000.5 2344.4,1000.5 2349.9,1000.5 2355.5,1000.5"/>
<polyline stroke="#a2142f" points="136.9,1000.5 137.6,1000.5 143.1,1000.5 148.7,1000.5 154.2,1000.5 159.8,1000.5 165.4,1000.5 170.9,1000.5 176.5,1000.5 182.0,1000.5 187.6,1000.5 193.1,1000.5 198.7,1000.5 204.3,1000.5 209.8,1000.5 215.4,1000.5 220.9,1000.5 226.5,1000.5 232.1,1000.5 237.6,1000.5 243.2,1000.5 248.7,1000.5 254.3,1000.5 259.9,1000.5 265.4,1000.5 271.0,1000.5 276.5,1000.5 282.1,1000.5 287.6,1000.5 293.2,1000.5 298.8,1000.5 304.3,1000.5 309.9,1000.5 315.4,1000.5 321.0,1000.5 326.6,1000.5 332.1,1000.4 337.7,1000.4 343.2,1000.4 348.8,1000.3 354.4,1000.3 359.9,1000.2 365.5,1000.1 371.0,1000.0 376.6,999.9 382.1,999.7 387.7,999.5 393.3,999.3 398.8,999.0 404.4,998.6 409.9,998.2 415.5,997.8 421.1,997.3 426.6,996.7 432.2,996.1 437.7,995.3 443.3,994.5 448.8,993.6 454.4,992.6 460.0,991.4 465.5,990.2 471.1,988.9 476.6,987.4 482.2,985.9 487.8,984.2 493.3,982.3 498.9,980.4 504.4,978.3 510.0,976.0 515.6,973.7 521.1,971.2 526.7,968.5 532.2,965.7 537.8,962.8 543.3,959.7 548.9,956.4 554.5,953.0 560.0,949.5 565.6,945.8 571.1,942.0 576.7,938.0 582.3,933.9 587.8,929.6 593.4,925.2 598.9,920.7 604.5,916.0 610.1,911.2 615.6,906.2 621.2,901.2 626.7,896.0 632.3,890.7 637.8,885.3 643.4,879.7 649.0,874.1 654.5,868.4 660.1,862.5 665.6,856.6 671.2,850.5 676.8,844.4 682.3,838.2 687.9,831.9 693.4,825.5 699.0,819.1 704.6,812.6 710.1,806.1 715.7,799.5 721.2,792.8 726.8,786.1 732.3,779.3 737.9,772.5 743.5,765.7 749.0,758.9 754.6,752.0 760.1,745.1 765.7,738.2 771.3,731.2 776.8,724.3 782.4,717.4 787.9,710.4 793.5,703.5 799.0,696.6 804.6,689.7 810.2,682.8 815.7,675.9 821.3,669.1 826.8,662.3 832.4,655.5 838.0,648.7 843.5,642.0 849.1,635.4 854.6,628.8 860.2,622.2 865.8,615.7 871.3,609.2 876.9,602.8 882.4,596.4 888.0,590.2 893.5,583.9 899.1,577.8 904.7,571.7 910.2,565.7 915.8,559.8 921.3,553.9 926.9,548.1 932.5,542.5 938.0,536.8 943.6,531.3 949.1,525.9 954.7,520.6 960.3,515.3 965.8,510.2 971.4,505.1 976.9,500.1 982.5,495.3 988.0,490.5 993.6,485.8 999.2,481.3 1004.7,476.8 1010.3,472.4 1015.8,468.2 1021.4,464.0 1027.0,460.0 1032.5,456.1 1038.1,452.2 1043.6,448.5 1049.2,444.9 1054.8,441.4 1060.3,438.1 1065.9,434.8 1071.4,431.6 1077.0,428.6 1082.5,425.7 1088.1,422.9 1093.7,420.2 1099.2,417.6 1104.8,415.1 1110.3,412.8 1115.9,410.5 1121.5,408.4 1127.0,406.4 1132.6,404.5 1138.1,402.7 1143.7,401.1 1149.3,399.5 1154.8,398.1 1160.4,396.8 1165.9,395.6 1171.5,394.5 1177.0,393.6 1182.6,392.7 1188.2,392.0 1193.7,391.4 1199.3,390.9 1204.8,390.5 1210.4,390.2 1216.0,390.0 1221.5,390.0 1227.1,390.0 1232.6,390.2 1238.2,390.5 1243.8,390.9 1249.3,391.4 1254.9,392.0 1260.4,392.8 1266.0,393.6 1271.5,394.6 1277.1,395.6 1282.7,396.8 1288.2,398.1 1293.8,399.5 1299.3,400.9 1304.9,402.5 1310.5,404.2 1316.0,406.0 1321.6,407.9 1327.1,410.0 1332.7,412.1 1338.2,414.3 1343.8,416.6 1349.4,419.0 1354.9,421.5 1360.5,424.2 1366.0,426.9 1371.6,429.7 1377.2,432.6 1382.7,435.6 1388.3,438.7 1393.8,441.9 1399.4,445.2 1405.0,448.6 1410.5,452.1 1416.1,455.6 1421.6,459.3 1427.2,463.1 1432.7,466.9 1438.3,470.8 1443.9,474.9 1449.4,479.0 1455.0,483.2 1460.5,487.5 1466.1,491.8 1471.7,496.3 1477.2,500.8 1482.8,505.4 1488.3,510.1 1493.9,514.9 1499.5,519.8 1505.0,524.8 1510.6,529.8 1516.1,534.9 1521.7,540.1 1527.2,545.3 1532.8,550.7 1538.4,556.1 1543.9,561.6 1549.5,567.2 1555.0,572.8 1560.6,578.5 1566.2,584.3 1571.7,590.2 1577.3,596.1 1582.8,602.1 1588.4,608.2 1594.0,614.3 1599.5,620.5 1605.1,626.8 1610.6,633.1 1616.2,639.5 1621.7,646.0 1627.3,652.5 1632.9,659.1 1638.4,665.8 1644.0,672.5 1649.5,679.3 1655.1,686.2 1660.7,693.1 1666.2,700.0 1671.8,707.1 1677.3,714.2 1682.9,721.3 1688.5,728.5 1694.0,735.8 1699.6,743.1 1705.1,750.5 1710.7,757.9 1716.2,765.4 1721.8,772.9 1727.4,780.5 1732.9,788.1 1738.5,795.8 1744.0,803.6 1749.6,811.3 1755.2,819.2 1760.7,827.1 1766.3,835.0 1771.8,843.0 1777.4,851.0 1782.9,859.1 1788.5,867.3 1794.1,875.4 1799.6,883.7 1805.2,891.9 1810.7,900.2 1816.3,908.6 1821.9,917.0 1827.4,925.4 1833.0,933.9 1838.5,942.4 1844.1,951.0 1849.7,959.6 1855.2,968.2 1860.8,976.9 1866.3,985.6 1871.9,994.4 1877.4,1000.5 1883.0,1000.5 1888.6,1000.5 1894.1,1000.5 1899.7,1000.5 1905.2,1000.5 1910.8,1000.5 1916.4,1000.5 1921.9,1000.5 1927.5,1000.5 1933.0,1000.5 1938.6,1000.5 1944.2,1000.5 1949.7,1000.5 1955.3,1000.5 1960.8,1000.5 1966.4,1000.5 1971.9,1000.5 1977.5,1000.5 1983.1,1000.5 1988.6,1000.5 1994.2,1000.5 1999.7,1000.5 2005.3,1000.5 2010.9,1000.5 2016.4,1000.5 2022.0,1000.5 2027.5,1000.5 2033.1,1000.5 2038.7,1000.5 2044.2,1000.5 2049.8,1000.5 2055.3,1000.5 2060.9,1000.5 2066.4,1000.5 2072.0,1000.5 2077.6,1000.5 2083.1,1000.5 2088.7,1000.5 2094.2,1000.5 2099.8,1000.5 2105.4,1000.5 2110.9,1000.5 2116.5,1000.5 2122.0,1000.5 2127.6,1000.5 2133.1,1000.5 2138.7,1000.5 2144.3,1000.5 2149.8,1000.5 2155.4,1000.5 2160.9,1000.5 2166.5,1000.5 2172.1,1000.5 2177.6,1000.5 2183.2,1000.5 2188.7,1000.5 2194.3,1000.5 2199.9,1000.5 2205.4,1000.5 2211.0,1000.5 2216.5,1000.5 2222.1,1000.5 2227.6,1000.5 2233.2,1000.5 2238.8,1000.5 2244.3,1000.5 2249.9,1000.5 2255.4,1000.5 2261.0,1000.5 2266.6,1000.5 2272.1,1000.5 2277.7,1000.5 2283.2,1000.5 2288.8,1000.5 2294.4,1000.5 2299.9,1000.5 2305.5,1000.5 2311.0,1000.5 2316.6,1000.5 2322.1,1000.5 2327.7,1000.5 2333.3,1000.5 2338.8,1000.5 2344.4,1000.5 2349.9,1000.5 2355.5,1000.5"/>
<polyline stroke="#4dbeee" points="136.9,1000.5 137.6,1000.5 143.1,1000.5 148.7,1000.5 154.2,1000.5 159.8,1000.5 165.4,1000.5 170.9,1000.5 176.5,1000.5 182.0,1000.5 187.6,1000.5 193.1,1000.5 198.7,1000.5 204.3,1000.5 209.8,1000.5 215.4,1000.5 220.9,1000.5 226.5,1000.5 232.1,1000.5 237.6,1000.5 243.2,1000.5 248.7,1000.5 254.3,1000.5 259.9,1000.5 265.4,1000.5 271.0,1000.5 276.5,1000.5 282.1,1000.5 287.6,1000.5 293.2,1000.5 298.8,1000.5 304.3,1000.5 309.9,1000.5 315.4,1000.5 321.0,1000.5 326.6,1000.5 332.1,1000.5 337.7,1000.5 343.2,1000.5 348.8,1000.5 354.4,1000.4 359.9,1000.4 365.5,1000.4 371.0,1000.3 376.6,1000.3 382.1,1000.2 387.7,1000.1 393.3,1000.0 398.8,999.9 404.4,999.7 409.9,999.5 415.5,999.3 421.1,999.0 426.6,998.7 432.2,998.3 437.7,997.9 443.3,997.4 448.8,996.9 454.4,996.3 460.0,995.6 465.5,994.8 471.1,993.9 476.6,993.0 482.2,991.9 487.8,990.8 493.3,989.5 498.9,988.1 504.4,986.7 510.0,985.0 515.6,983.3 521.1,981.4 526.7,979.4 532.2,977.2 537.8,974.9 543.3,972.5 548.9,969.9 554.5,967.1 560.0,964.2 565.6,961.1 571.1,957.9 576.7,954.5 582.3,951.0 587.8,947.2 593.4,943.3 598.9,939.3 604.5,935.1 610.1,930.7 615.6,926.1 621.2,921.4 626.7,916.5 632.3,911.5 637.8,906.3 643.4,900.9 649.0,895.4 654.5,889.7 660.1,883.9 665.6,877.9 671.2,871.8 676.8,865.5 682.3,859.1 687.9,852.5 693.4,845.9 699.0,839.0 704.6,832.1 710.1,825.0 715.7,817.8 721.2,810.5 726.8,803.1 732.3,795.6 737.9,787.9 743.5,780.2 749.0,772.4 754.6,764.4 760.1,756.4 765.7,748.4 771.3,740.2 776.8,732.0 782.4,723.7 787.9,715.3 793.5,706.9 799.0,698.4 804.6,689.9 810.2,681.3 815.7,672.7 821.3,664.0 826.8,655.4 832.4,646.6 838.0,637.9 843.5,629.2 849.1,620.4 854.6,611.6 860.2,602.9 865.8,594.1 871.3,585.3 876.9,576.5 882.4,567.8 888.0,559.1 893.5,550.3 899.1,541.6 904.7,533.0 910.2,524.3 915.8,515.7 921.3,507.1 926.9,498.6 932.5,490.1 938.0,481.7 943.6,473.3 949.1,464.9 954.7,456.7 960.3,448.5 965.8,440.3 971.4,432.2 976.9,424.2 982.5,416.2 988.0,408.4 993.6,400.6 999.2,392.8 1004.7,385.2 1010.3,377.7 1015.8,370.2 1021.4,362.8 1027.0,355.5 1032.5,348.3 1038.1,341.2 1043.6,334.2 1049.2,327.3 1054.8,320.5 1060.3,313.8 1065.9,307.2 1071.4,300.7 1077.0,294.3 1082.5,288.1 1088.1,281.9 1093.7,275.8 1099.2,269.9 1104.8,264.1 1110.3,258.3 1115.9,252.7 1121.5,247.3 1127.0,241.9 1132.6,236.7 1138.1,231.5 1143.7,226.5 1149.3,221.7 1154.8,216.9 1160.4,212.3 1165.9,207.8 1171.5,203.4 1177.0,199.2 1182.6,195.0 1188.2,191.0 1193.7,187.2 1199.3,183.4 1204.8,179.8 1210.4,176.3 1216.0,172.9 1221.5,169.7 1227.1,166.6 1232.6,163.6 1238.2,160.8 1243.8,158.1 1249.3,155.5 1254.9,153.1 1260.4,150.8 1266.0,148.6 1271.5,146.5 1277.1,144.6 1282.7,142.8 1288.2,141.1 1293.8,139.6 1299.3,138.2 1304.9,136.9 1310.5,135.8 1316.0,134.7 1321.6,133.9 1327.1,133.1 1332.7,132.5 1338.2,132.0 1343.8,131.6 1349.4,131.4 1354.9,131.2 1360.5,131.2 1366.0,131.4 1371.6,131.6 1377.2,132.0 1382.7,132.6 1388.3,133.2 1393.8,134.0 1399.4,134.8 1405.0,135.9 1410.5,137.0 1416.1,138.2 1421.6,139.6 1427.2,141.1 1432.7,142.7 1438.3,144.5 1443.9,146.4 1449.4,148.3 1455.0,150.4 1460.5,152.6 1466.1,155.0 1471.7,157.4 1477.2,160.0 1482.8,162.7 1488.3,165.5 1493.9,168.4 1499.5,171.4 1505.0,174.6 1510.6,177.8 1516.1,181.2 1521.7,184.6 1527.2,188.2 1532.8,191.9 1538.4,195.7 1543.9,199.6 1549.5,203.6 1555.0,207.8 1560.6,212.0 1566.2,216.3 1571.7,220.8 1577.3,225.3 1582.8,229.9 1588.4,234.7 1594.0,239.5 1599.5,244.5 1605.1,249.5 1610.6,254.7 1616.2,259.9 1621.7,265.3 1627.3,270.7 1632.9,276.2 1638.4,281.9 1644.0,287.6 1649.5,293.4 1655.1,299.3 1660.7,305.3 1666.2,311.4 1671.8,317.6 1677.3,323.9 1682.9,330.3 1688.5,336.7 1694.0,343.3 1699.6,349.9 1705.1,356.6 1710.7,363.5 1716.2,370.3 1721.8,377.3 1727.4,384.4 1732.9,391.5 1738.5,398.8 1744.0,406.1 1749.6,413.4 1755.2,420.9 1760.7,428.5 1766.3,436.1 1771.8,443.8 1777.4,451.6 1782.9,459.4 1788.5,467.4 1794.1,475.4 1799.6,483.5 1805.2,491.6 1810.7,499.9 1816.3,508.2 1821.9,516.5 1827.4,525.0 1833.0,533.5 1838.5,542.1 1844.1,550.8 1849.7,559.5 1855.2,568.3 1860.8,577.1 1866.3,586.1 1871.9,595.0 1877.4,604.1 1883.0,613.2 1888.6,622.4 1894.1,631.7 1899.7,641.0 1905.2,650.3 1910.8,659.8 1916.4,669.3 1921.9,678.8 1927.5,688.4 1933.0,698.1 1938.6,707.8 1944.2,717.6 1949.7,727.5 1955.3,737.4 1960.8,747.3 1966.4,757.3 1971.9,767.4 1977.5,777.5 1983.1,787.7 1988.6,797.9 1994.2,808.2 1999.7,818.5 2005.3,828.9 2010.9,839.3 2016.4,849.8 2022.0,860.4 2027.5,870.9 2033.1,881.6 2038.7,892.2 2044.2,903.0 2049.8,913.7 2055.3,924.5 2060.9,935.4 2066.4,946.3 2072.0,957.3 2077.6,968.3 2083.1,979.3 2088.7,990.4 2094.2,1000.5 2099.8,1000.5 2105.4,1000.5 2110.9,1000.5 2116.5,1000.5 2122.0,1000.5 2127.6,1000.5 2133.1,1000.5 2138.7,1000.5 2144.3,1000.5 2149.8,1000.5 2155.4,1000.5 2160.9,1000.5 2166.5,1000.5 2172.1,1000.5 2177.6,1000.5 2183.2,1000.5 2188.7,1000.5 2194.3,1000.5 2199.9,1000.5 2205.4,1000.5 2211.0,1000.5 2216.5,1000.5 2222.1,1000.5 2227.6,1000.5 2233.2,1000.5 2238.8,1000.5 2244.3,1000.5 2249.9,1000.5 2255.4,1000.5 2261.0,1000.5 2266.6,1000.5 2272.1,1000.5 2277.7,1000.5 2283.2,1000.5 2288.8,1000.5 2294.4,1000.5 2299.9,1000.5 2305.5,1000.5 2311.0,1000.5 2316.6,1000.5 2322.1,1000.5 2327.7,1000.5 2333.3,1000.5 2338.8,1000.5 2344.4,1000.5 2349.9,1000.5 2355.5,1000.5"/>
</g>
<g fill="none" stroke="#ff0000" stroke-width="15" stroke-linecap="butt" shape-rendering="crispEdges">
<line x1="537.8" y1="968.3" x2="676.8" y2="924.2"/>
<line x1="676.8" y1="924.2" x2="810.2" y2="851.5" stroke-dasharray="52 12.5 26 12.5"/>
<line x1="810.2" y1="851.5" x2="949.1" y2="742.9" stroke-dasharray="52 12.5 26 12.5"/>
<line x1="949.1" y1="742.9" x2="1082.5" y2="591.5" stroke-dasharray="52 12.5 26 12.5"/>
<line x1="1082.5" y1="591.5" x2="1221.5" y2="390.0" stroke-dasharray="52 12.5 26 12.5"/>
<line x1="1221.5" y1="390.0" x2="1354.9" y2="131.2" stroke-dasharray="52 12.5 26 12.5"/>
</g>
<g fill="#ff0000" shape-rendering="crispEdges">
<circle cx="537.8" cy="968.3" r="12.5"/>
<circle cx="676.8" cy="924.2" r="12.5"/>
<circle cx="810.2" cy="851.5" r="12.5"/>
<circle cx="949.1" cy="742.9" r="12.5"/>
<circle cx="1082.5" cy="591.5" r="12.5"/>
<circle cx="1221.5" cy="390.0" r="12.5"/>
<circle cx="1354.9" cy="131.2" r="12.5"/>
</g>
<rect x="1994" y="87.7" width="307" height="577.3" fill="#ffffff"/>
<g shape-rendering="crispEdges">
<rect x="2080" y="127.0" width="53" height="15" fill="#12278a"/>
<rect x="2080" y="196.3" width="53" height="15" fill="#82607b"/>
<rect x="2080" y="265.6" width="53" height="15" fill="#0f3322"/>
<rect x="2080" y="334.8" width="53" height="15" fill="#edb120"/>
<rect x="2080" y="404.1" width="53" height="15" fill="#77ac30"/>
<rect x="2080" y="473.4" width="53" height="15" fill="#a2142f"/>
<rect x="2080" y="542.7" width="53" height="15" fill="#4dbeee"/>
<rect x="2080" y="612.0" width="53" height="15" fill="#ff0000"/>
<circle cx="2106.5" cy="619.5" r="12.5" fill="#ff0000"/>
</g>
<g fill="#000000">
<text transform="translate(2135.90,147.95) scale(0.95,1)" font-size="36.5" text-anchor="start">3m/s</text>
<text transform="translate(2135.90,217.23) scale(0.95,1)" font-size="36.5" text-anchor="start">4m/s</text>
<text transform="translate(2135.90,286.51) scale(0.95,1)" font-size="36.5" text-anchor="start">5m/s</text>
<text transform="translate(2135.90,355.79) scale(0.95,1)" font-size="36.5" text-anchor="start">6m/s</text>
<text transform="translate(2135.90,425.06) scale(0.95,1)" font-size="36.5" text-anchor="start">7m/s</text>
<text transform="translate(2135.90,494.34) scale(0.95,1)" font-size="36.5" text-anchor="start">8m/s</text>
<text transform="translate(2135.90,563.62) scale(0.95,1)" font-size="36.5" text-anchor="start">9m/s</text>
<text transform="translate(2135.90,632.90) scale(0.95,1)" font-size="36.5" text-anchor="start">MPP</text>
</g>
<g fill="#262626">
<text transform="translate(131.90,1067.40) scale(0.95,1)" font-size="53.3" text-anchor="middle">0</text>
<text transform="translate(409.84,1067.40) scale(0.95,1)" font-size="53.3" text-anchor="middle">5</text>
<text transform="translate(687.77,1067.40) scale(0.95,1)" font-size="53.3" text-anchor="middle">10</text>
<text transform="translate(965.71,1067.40) scale(0.95,1)" font-size="53.3" text-anchor="middle">15</text>
<text transform="translate(1243.65,1067.40) scale(0.95,1)" font-size="53.3" text-anchor="middle">20</text>
<text transform="translate(1521.59,1067.40) scale(0.95,1)" font-size="53.3" text-anchor="middle">25</text>
<text transform="translate(1799.53,1067.40) scale(0.95,1)" font-size="53.3" text-anchor="middle">30</text>
<text transform="translate(2077.46,1067.40) scale(0.95,1)" font-size="53.3" text-anchor="middle">35</text>
<text transform="translate(2355.40,1067.40) scale(0.95,1)" font-size="53.3" text-anchor="middle">40</text>
<text transform="translate(116.20,1021.50) scale(0.95,1)" font-size="53.3" text-anchor="end">0</text>
<text transform="translate(116.20,847.65) scale(0.95,1)" font-size="53.3" text-anchor="end">1</text>
<text transform="translate(116.20,673.79) scale(0.95,1)" font-size="53.3" text-anchor="end">2</text>
<text transform="translate(116.20,499.94) scale(0.95,1)" font-size="53.3" text-anchor="end">3</text>
<text transform="translate(116.20,326.08) scale(0.95,1)" font-size="53.3" text-anchor="end">4</text>
<text transform="translate(116.20,152.23) scale(0.95,1)" font-size="53.3" text-anchor="end">5</text>
</g>
<g fill="#262626">
<text font-size="56.8" text-anchor="middle" transform="translate(80.2,525.4) rotate(-90) scale(1,1.045)">P (kW)</text>
<text x="1114.8" y="1132.2" font-size="54" stroke="#262626" stroke-width="0.9" style="font-family:'Liberation Serif','DejaVu Serif',serif;font-weight:normal;font-style:italic">ω</text>
<text transform="translate(1153.80,1160.50) scale(0.95,1)" font-size="46" text-anchor="start">m</text>
<text transform="translate(1209.60,1131.90) scale(1.003,1)" font-size="56.8" text-anchor="start">(rad/s)</text>
</g>
</svg></body></html>
